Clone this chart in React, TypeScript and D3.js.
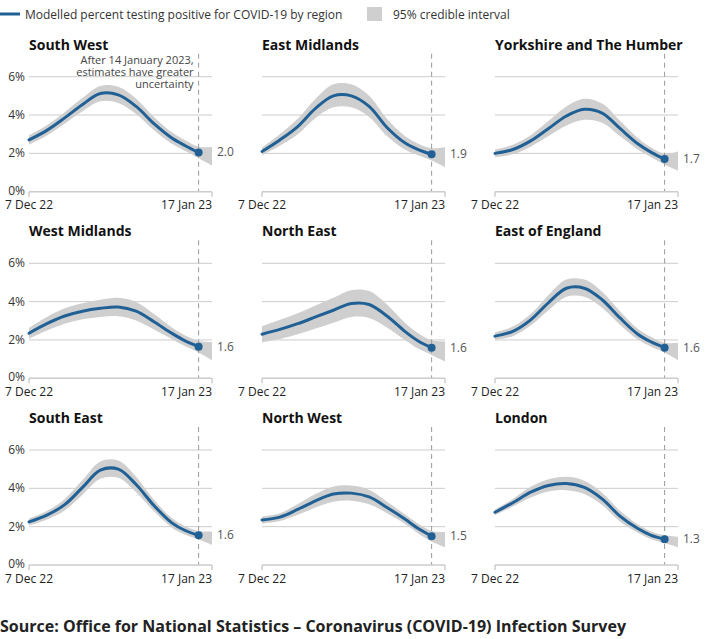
import * as d3 from "d3";

// sample dates (last one is only used by the credible interval)
const dates = [
  "2022-12-07", "2022-12-11", "2022-12-15", "2022-12-19", "2022-12-23", "2022-12-27",
  "2022-12-31", "2023-01-04", "2023-01-08", "2023-01-11", "2023-01-14", "2023-01-17",
];

const regionNames = [
  "South West", "East Midlands", "Yorkshire and The Humber",
  "West Midlands", "North East", "East of England",
  "South East", "North West", "London",
];

const endLabels = ["2.0", "1.9", "1.7", "1.6", "1.6", "1.6", "1.6", "1.5", "1.3"];

// modelled percent testing positive
const southWest = [2.7, 3.2, 3.85, 4.55, 5.12, 5.05, 4.45, 3.55, 2.8, 2.4, 2.05, 1.85];
const eastMidlands = [2.1, 2.7, 3.4, 4.35, 5.0, 5.0, 4.45, 3.35, 2.55, 2.2, 1.95, 1.8];
const yorkshire = [2.0, 2.2, 2.65, 3.3, 3.95, 4.3, 4.1, 3.3, 2.5, 2.05, 1.7, 1.6];
const westMidlands = [2.35, 2.85, 3.25, 3.5, 3.65, 3.72, 3.5, 2.95, 2.35, 1.95, 1.65, 1.42];
const northEast = [2.3, 2.55, 2.85, 3.2, 3.55, 3.9, 3.85, 3.25, 2.45, 1.95, 1.6, 1.4];
const eastOfEngland = [2.2, 2.45, 3.05, 3.95, 4.7, 4.7, 4.1, 3.15, 2.3, 1.9, 1.6, 1.4];
const southEast = [2.25, 2.6, 3.15, 4.05, 4.95, 5.0, 4.2, 3.1, 2.2, 1.8, 1.55, 1.4];
const northWest = [2.35, 2.5, 2.9, 3.35, 3.7, 3.75, 3.55, 3.0, 2.4, 1.9, 1.5, 1.32];
const london = [2.75, 3.25, 3.8, 4.15, 4.25, 4.05, 3.45, 2.55, 1.9, 1.55, 1.35, 1.2];

// half width of the 95% credible interval
const southWestCI = [0.25, 0.27, 0.3, 0.35, 0.4, 0.42, 0.4, 0.35, 0.3, 0.28, 0.3, 0.48];
const eastMidlandsCI = [0.2, 0.3, 0.4, 0.5, 0.6, 0.6, 0.55, 0.45, 0.35, 0.3, 0.32, 0.52];
const yorkshireCI = [0.2, 0.25, 0.3, 0.4, 0.5, 0.55, 0.5, 0.4, 0.3, 0.25, 0.28, 0.5];
const westMidlandsCI = [0.28, 0.35, 0.4, 0.42, 0.45, 0.48, 0.48, 0.4, 0.3, 0.28, 0.3, 0.48];
const northEastCI = [0.42, 0.5, 0.55, 0.6, 0.65, 0.7, 0.7, 0.6, 0.45, 0.4, 0.38, 0.52];
const eastOfEnglandCI = [0.2, 0.25, 0.3, 0.4, 0.45, 0.45, 0.42, 0.35, 0.28, 0.25, 0.25, 0.45];
const southEastCI = [0.18, 0.22, 0.3, 0.38, 0.45, 0.45, 0.4, 0.3, 0.25, 0.22, 0.22, 0.35];
const northWestCI = [0.18, 0.2, 0.28, 0.35, 0.4, 0.4, 0.38, 0.3, 0.25, 0.25, 0.28, 0.4];
const londonCI = [0.15, 0.2, 0.28, 0.32, 0.35, 0.35, 0.32, 0.28, 0.22, 0.2, 0.2, 0.27];

const yTicks = [0, 2, 4, 6];
const xTickLabels = ["7 Dec 22", "17 Jan 23"];
const uncertaintyDate = "2023-01-14";

const series = [southWest, eastMidlands, yorkshire, westMidlands, northEast, eastOfEngland, southEast, northWest, london];
const intervals = [southWestCI, eastMidlandsCI, yorkshireCI, westMidlandsCI, northEastCI, eastOfEnglandCI, southEastCI, northWestCI, londonCI];

const BLUE = "#206095";
const BAND = "#cfcfcf";
const GRID = "#cccccc";
const FONT = "'Open Sans', sans-serif";

const parse = d3.timeParse("%Y-%m-%d");
const days = dates.map((s) => parse(s)!);
const cutoff = parse(uncertaintyDate)!;

const colX = [29, 262, 495];
const rowZero = [191.7, 378.3, 565];
const panelW = 183;
const panelH = 115;

function Panel({ idx }: { idx: number }) {
  const col = idx % 3;
  const row = Math.floor(idx / 3);
  const x0 = colX[col];
  const y0 = rowZero[row];
  const x = d3.scaleTime().domain([days[0], days[days.length - 1]]).range([x0, x0 + panelW]);
  const y = d3.scaleLinear().domain([0, 6]).range([y0, y0 - panelH]);

  const vals = series[idx];
  const ci = intervals[idx];
  const pts = days.map((d, i) => ({ d, v: vals[i], lo: vals[i] - ci[i], hi: vals[i] + ci[i] }));
  const linePts = pts.filter((p) => p.d <= cutoff);

  const area = d3.area<(typeof pts)[0]>()
    .x((p) => x(p.d)).y0((p) => y(p.lo)).y1((p) => y(p.hi))
    .curve(d3.curveCatmullRom.alpha(0.5));
  const line = d3.line<(typeof pts)[0]>()
    .x((p) => x(p.d)).y((p) => y(p.v))
    .curve(d3.curveCatmullRom.alpha(0.5));

  const last = linePts[linePts.length - 1];
  const xc = x(cutoff);

  return (
    <g>
      <text x={x0} y={y0 - 142} fontSize={14} fontWeight={700} fill="#111">{regionNames[idx]}</text>
      {yTicks.filter((t) => t > 0).map((t) => (
        <line key={t} x1={x0} x2={x0 + panelW} y1={y(t)} y2={y(t)} stroke={GRID} strokeWidth={1} />
      ))}
      {col === 0 && yTicks.map((t) => (
        <text key={t} x={x0 - 4} y={y(t) + (t === 0 ? 3 : 4)} textAnchor="end" fontSize={12} fill="#333">{t}%</text>
      ))}
      <path d={area(pts)!} fill={BAND} />
      <line x1={xc} x2={xc} y1={y0 - 138} y2={y0} stroke="#999" strokeDasharray="5,4" strokeWidth={1} />
      <path d={line(linePts)!} fill="none" stroke={BLUE} strokeWidth={3} strokeLinecap="round" />
      <circle cx={x(last.d)} cy={y(last.v)} r={4} fill={BLUE} />
      <text x={x0 + panelW + 5} y={y(last.v) + 4} fontSize={12} fill="#555">{endLabels[idx]}</text>
      <line x1={x0} x2={x0 + panelW} y1={y0} y2={y0} stroke={GRID} strokeWidth={1.5} />
      <line x1={x0} x2={x0} y1={y0} y2={y0 + 5} stroke={GRID} strokeWidth={1.5} />
      <line x1={x0 + panelW} x2={x0 + panelW} y1={y0} y2={y0 + 5} stroke={GRID} strokeWidth={1.5} />
      <text x={x0} y={y0 + 17.5} textAnchor="middle" fontSize={12} fill="#222">{xTickLabels[0]}</text>
      <text x={x0 + panelW} y={y0 + 17.5} textAnchor="end" fontSize={12} fill="#222">{xTickLabels[1]}</text>
      {idx === 0 && (
        <g fontSize={11} fill="#444" textAnchor="end">
          <text x={xc - 5} y={64}>After 14 January 2023,</text>
          <text x={xc - 5} y={76}>estimates have greater</text>
          <text x={xc - 5} y={88}>uncertainty</text>
        </g>
      )}
    </g>
  );
}

export default function App() {
  return (
    <div style={{ position: "absolute", left: 0, top: 0 }}>
      <svg width={707} height={639} style={{ fontFamily: FONT, display: "block" }}>
        <rect width={707} height={639} fill="#fff" />
        <line x1={0} x2={20} y1={14} y2={14} stroke={BLUE} strokeWidth={3} />
        <text x={25} y={19} fontSize={12} fill="#333">Modelled percent testing positive for COVID-19 by region</text>
        <rect x={367} y={7} width={15} height={14} fill={BAND} />
        <text x={393} y={19} fontSize={12} fill="#333">95% credible interval</text>
        {regionNames.map((_, i) => <Panel key={i} idx={i} />)}
        <text x={0} y={632} fontSize={16} fontWeight={700} fill="#222">
          Source: Office for National Statistics – Coronavirus (COVID-19) Infection Survey
        </text>
      </svg>
    </div>
  );
}
